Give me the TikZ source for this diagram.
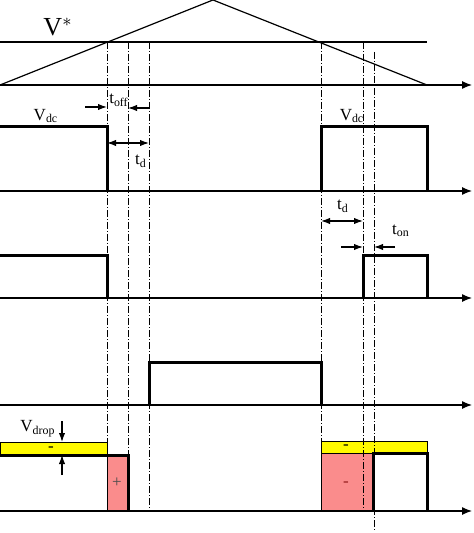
\documentclass[tikz,border=0pt]{standalone}
\usepackage{fontspec}
\setmainfont{Liberation Serif}
\usetikzlibrary{arrows.meta}
\definecolor{dropyellow}{RGB}{255,250,0}
\definecolor{diodepink}{RGB}{250,140,140}
\definecolor{minusred}{RGB}{150,30,30}
\tikzset{
  pulse/.style={line width=1.5pt},
  dashdot/.style={line width=.5pt, dash pattern=on 3.5pt off 1pt on .5pt off 1pt},
  axis/.style={line width=.6pt, -{Latex[length=5pt,width=4pt]}},
  dim/.style={line width=.6pt, -{Latex[length=4.5pt,width=3.2pt]}},
  dimboth/.style={line width=.6pt, {Latex[length=4.5pt,width=3.2pt]}-{Latex[length=4.5pt,width=3.2pt]}},
  lbl/.style={inner sep=0pt, font=\fontsize{8.5}{9}\selectfont},
}
\begin{document}
\begin{tikzpicture}[x=.5pt,y=-.5pt]
    \useasboundingbox (0,0) rectangle (474,533);
    % freewheeling diode / drop areas
    \filldraw[fill=dropyellow, line width=.5pt] (0,442) rectangle (107,455);
    \filldraw[fill=diodepink, line width=.5pt] (107,455) rectangle (128,511);
    \filldraw[fill=dropyellow, line width=.5pt] (321,441) rectangle (427,453);
    \filldraw[fill=diodepink, line width=.5pt] (321,453) rectangle (373,511);
    % switching instants
    \foreach \x in {107,128,149,321,363}
        \draw[dashdot] (\x,42) -- (\x,511);
    \draw[dashdot] (374,52) -- (374,530);
    % reference and carrier
    \draw[line width=.6pt] (0,42) -- (427,42);
    \draw[line width=.6pt] (0,85) -- (213,0) -- (427,85);
    \node[inner sep=0pt] (vstar) at (58,27) {\fontsize{13}{14}\selectfont V$^{\ast}$};
    % time axes
    \foreach \y in {85,191,298,405,511}
        \draw[axis] (0,\y) -- (472,\y);
    % gate signals and output voltage
    \draw[pulse] (0,127) -- (107,127) -- (107,191);
    \draw[pulse] (321,191) -- (321,127) -- (427,127) -- (427,191);
    \draw[pulse] (0,256) -- (107,256) -- (107,298);
    \draw[pulse] (363,298) -- (363,256) -- (427,256) -- (427,298);
    \draw[pulse] (149,405) -- (149,362) -- (321,362) -- (321,405);
    \draw[pulse] (0,455) -- (128,455) -- (128,511);
    \draw[pulse] (373,511) -- (373,453) -- (427,453) -- (427,511);
    % labels
    \node[lbl] (vdcL) at (46,116) {V\textsubscript{dc}};
    \node[lbl] (vdcR) at (352,116) {V\textsubscript{dc}};
    \node[lbl] (toff) at (119,100) {t\textsubscript{off}};
    \node[lbl] (tdL) at (141,161) {t\textsubscript{d}};
    \node[lbl] (tdR) at (343,206) {t\textsubscript{d}};
    \node[lbl] (ton) at (401,231) {t\textsubscript{on}};
    \node[lbl] (vdrop) at (38,429) {V\textsubscript{drop}};
    \node[lbl] (mL) at (51,449) {-};
    \node[lbl, text=black!70] (pL) at (117,483) {+};
    \node[lbl] (mR) at (346,447) {-};
    \node[lbl, text=minusred] (mP) at (346,484) {-};
    % interval arrows
    \draw[dim] (85,107) -- (107,107);
    \draw[dim] (149,108) -- (128,108);
    \draw[dimboth] (107,143) -- (149,143);
    \draw[dimboth] (321,221) -- (363,221);
    \draw[dim] (341,247) -- (363,247);
    \draw[dim] (395,247) -- (374,247);
    \draw[dim] (62,421) -- (62,442);
    \draw[dim] (62,475) -- (62,455);
\end{tikzpicture}
\end{document}
